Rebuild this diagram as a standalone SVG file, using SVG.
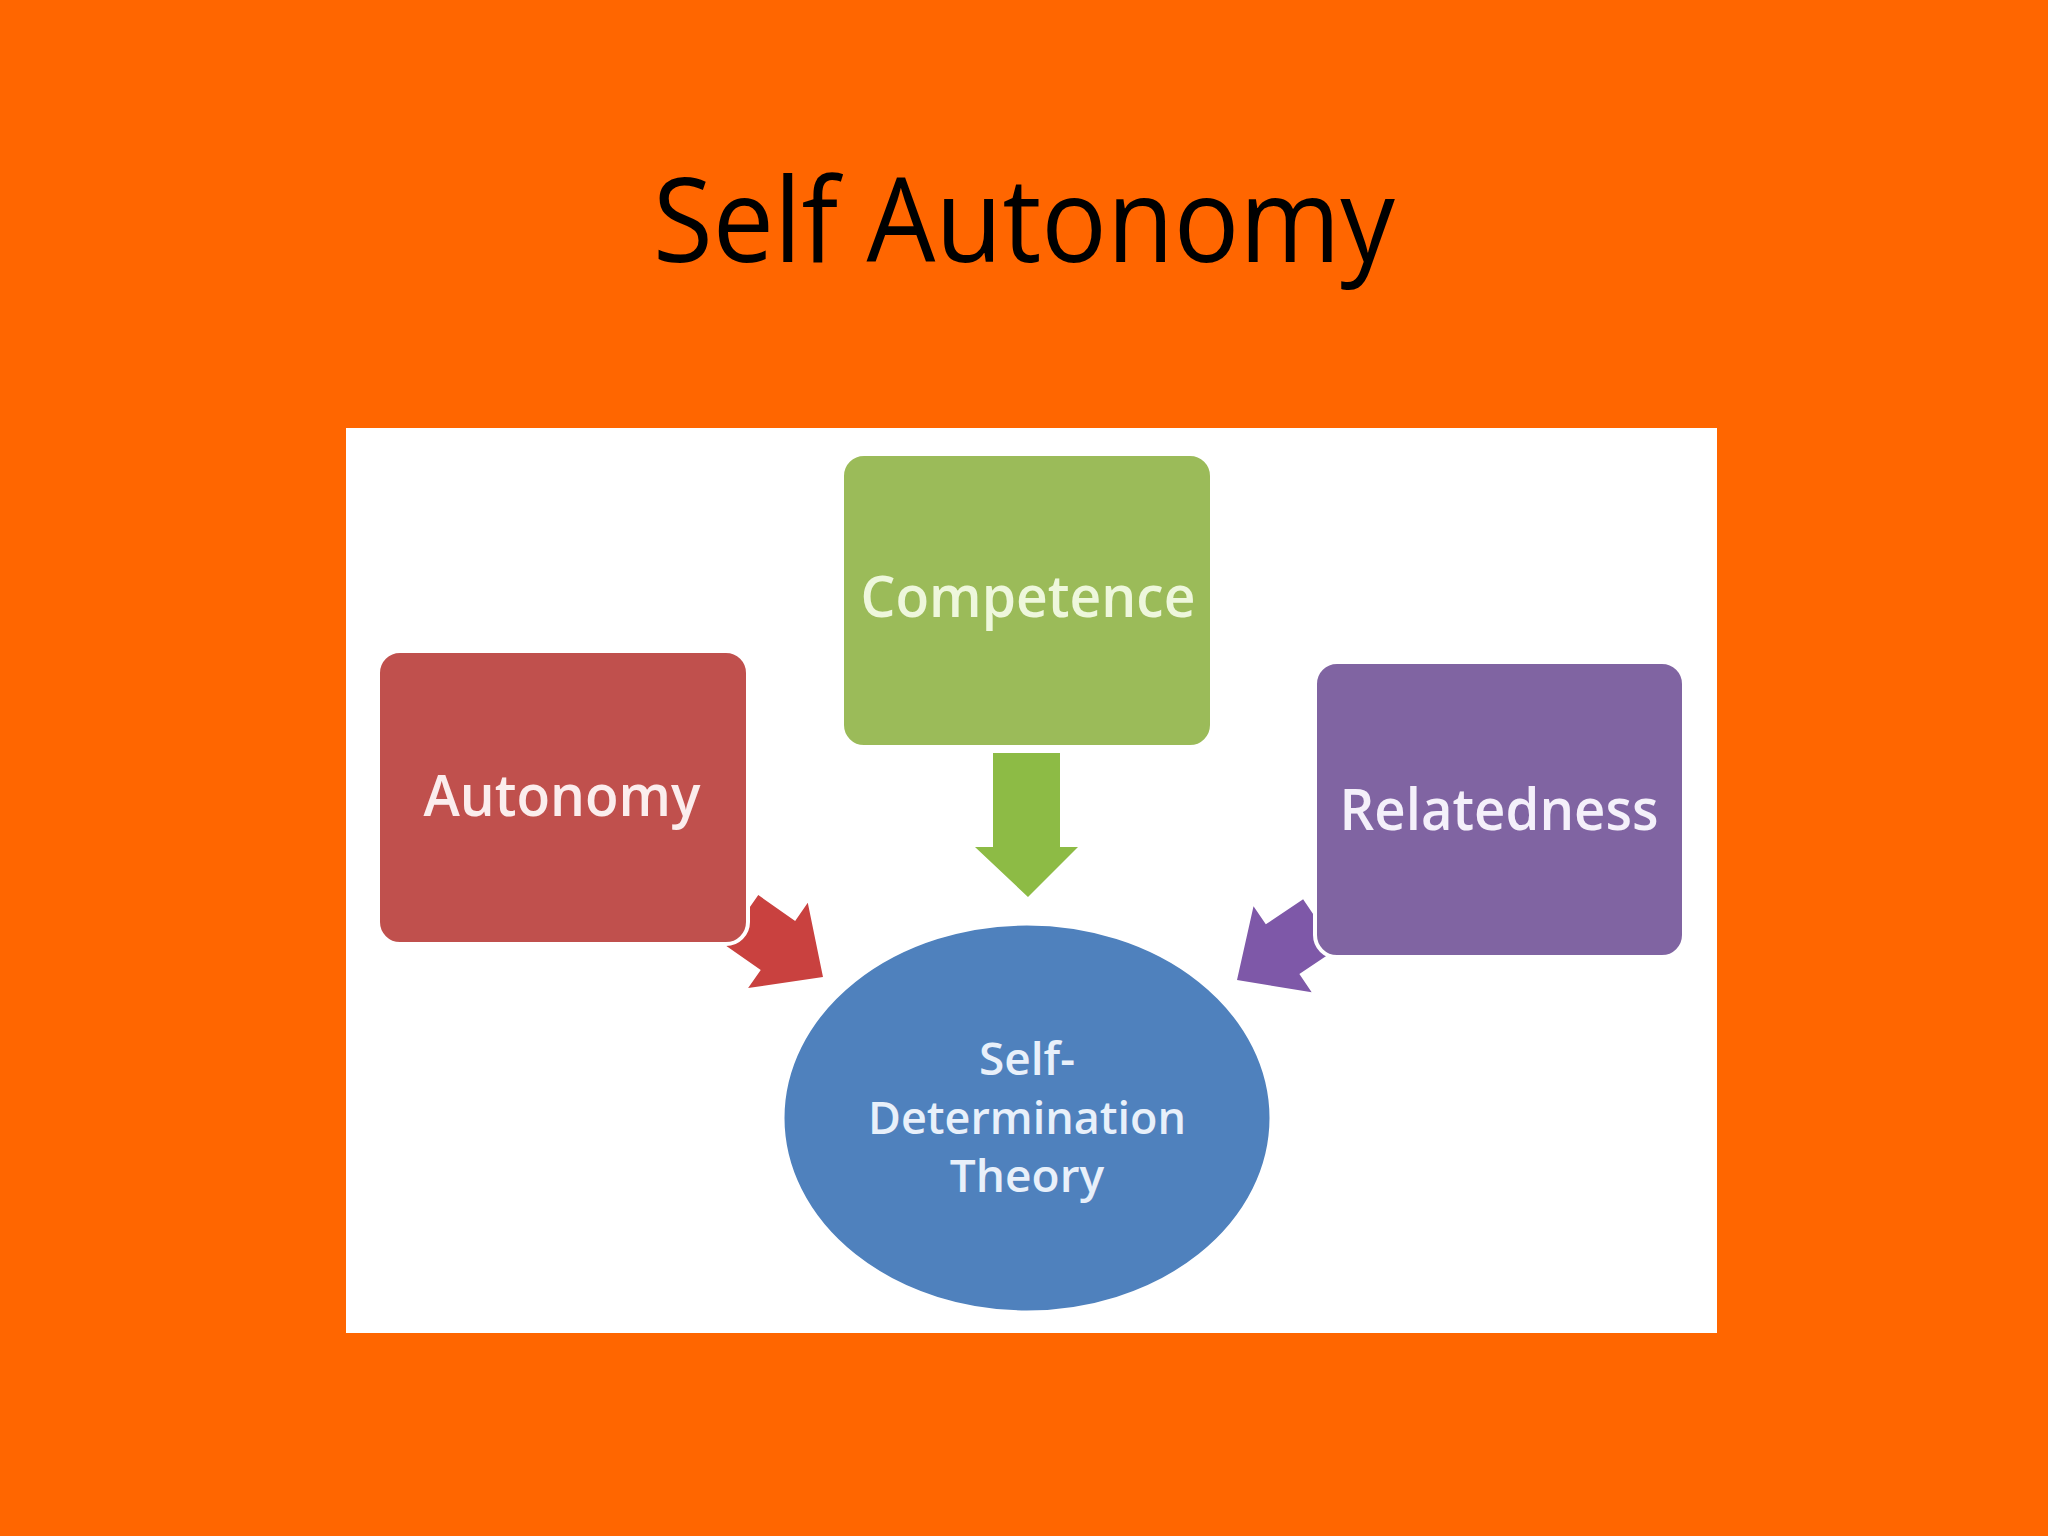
<svg xmlns="http://www.w3.org/2000/svg" width="2048" height="1536" viewBox="0 0 2048 1536">
<style>
.lbl{font-family:"Open Sans","Liberation Sans",sans-serif;font-weight:600;text-anchor:middle}
.box{stroke:#ffffff;stroke-width:4}
</style>
<defs>
<path id="arr" d="M0,0 L-55,-52 L-55,-30 L-100,-30 L-100,30 L-55,30 L-55,52 Z"/>
</defs>
<rect x="0" y="0" width="2048" height="1536" fill="#FF6600"/>
<text x="1024" y="262" font-family="'Open Sans','Liberation Sans',sans-serif" font-size="118" text-anchor="middle" textLength="742" lengthAdjust="spacingAndGlyphs" fill="#000000">Self Autonomy</text>
<rect x="346" y="428" width="1371" height="905" fill="#ffffff"/>
<g id="connectors">
<use href="#arr" transform="translate(823,977) rotate(35)" fill="#C9413F"/>
<use href="#arr" transform="translate(1237,980) rotate(146)" fill="#7E58A8"/>
<path d="M993,753 L1060,753 L1060,847 L1078,847 L1028,897 L975,847 L993,847 Z" fill="#8DBB45"/>
</g>
<g id="competence">
<rect class="box" x="842" y="454" width="370" height="293" rx="22" fill="#9BBB59"/>
<text class="lbl" x="1028" y="617" font-size="58" textLength="335" lengthAdjust="spacingAndGlyphs" fill="#EEF7DC">Competence</text>
</g>
<g id="autonomy">
<rect class="box" x="378" y="651" width="370" height="293" rx="22" fill="#C0504D"/>
<text class="lbl" x="562" y="816" font-size="58" textLength="277" lengthAdjust="spacingAndGlyphs" fill="#FBEDED">Autonomy</text>
</g>
<g id="relatedness">
<rect class="box" x="1315" y="662" width="369" height="295" rx="22" fill="#8064A2"/>
<text class="lbl" x="1499" y="830" font-size="58" textLength="319" lengthAdjust="spacingAndGlyphs" fill="#F4F0FA">Relatedness</text>
</g>
<g id="sdt">
<ellipse cx="1027" cy="1118" rx="244" ry="194" fill="#4F81BD" stroke="#ffffff" stroke-width="3"/>
<text class="lbl" x="1027" y="1075" font-size="46" fill="#E8F0FA">Self-</text>
<text class="lbl" x="1027" y="1134" font-size="46" textLength="318" lengthAdjust="spacingAndGlyphs" fill="#E8F0FA">Determination</text>
<text class="lbl" x="1027" y="1192" font-size="46" fill="#E8F0FA">Theory</text>
</g>
</svg>
